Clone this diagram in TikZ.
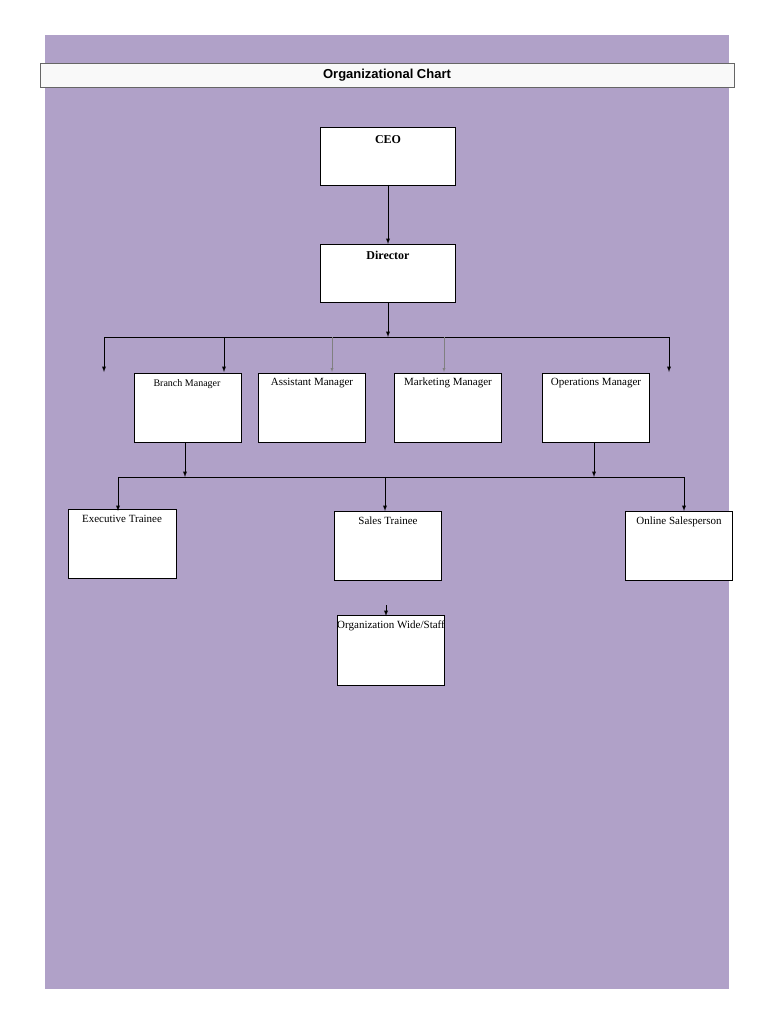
\documentclass[tikz,border=0pt]{standalone}
\usepackage{fontspec}
\setmainfont{Liberation Serif}
\newfontfamily\titlefont{Liberation Sans}
\begin{document}
\begin{tikzpicture}[x=1pt,y=-1pt,
 box/.style={draw=black,fill=white,line width=0.6pt},
 lbl/.style={anchor=north,font=\fontsize{11}{12}\selectfont,inner sep=0pt},
 arr/.style={line width=0.9pt,-{latex}},
 ln/.style={line width=0.9pt}]
\definecolor{bg}{HTML}{B0A1C8}
\useasboundingbox (0,0) rectangle (768,1024);
\fill[bg] (45,35) rectangle (729,989);
\node[draw=black!60,fill=gray!5,minimum width=694pt,minimum height=24pt,inner sep=0pt,font=\titlefont\bfseries\fontsize{13}{14}\selectfont] (title) at (387,75) {Organizational Chart};
% boxes
\draw[box] (320,127) rectangle (455,185); \node[lbl,font=\bfseries\fontsize{12}{13}\selectfont] (ceo) at (388,135) {CEO};
\draw[box] (320,244) rectangle (455,302); \node[lbl,font=\bfseries\fontsize{12}{13}\selectfont] (dir) at (388,251) {Director};
\draw[box] (134,373) rectangle (241,442); \node[lbl,font=\fontsize{10}{11}\selectfont] (bm) at (187,379) {Branch Manager};
\draw[box] (258,373) rectangle (365,442); \node[lbl] (am) at (312,378) {Assistant Manager};
\draw[box] (394,373) rectangle (501,442); \node[lbl] (mm) at (448,378) {Marketing Manager};
\draw[box] (542,373) rectangle (649,442); \node[lbl] (om) at (596,378) {Operations Manager};
\draw[box] (68,509) rectangle (176,578); \node[lbl] (et) at (122,515) {Executive Trainee};
\draw[box] (334,511) rectangle (441,580); \node[lbl] (st) at (388,517) {Sales Trainee};
\draw[box] (625,511) rectangle (732,580); \node[lbl] (os) at (679,517) {Online Salesperson};
\draw[box] (337,615) rectangle (444,685); \node[lbl] (ow) at (391,621) {Organization Wide/Staff};
% connectors
\coordinate (c1) at (388,185); \coordinate (c2) at (388,244);
\draw[arr] (c1) -- (c2);
\coordinate (d1) at (388,302); \coordinate (d2) at (388,337);
\draw[arr] (d1) -- (d2);
\coordinate (hL) at (104,337); \coordinate (hR) at (669,337);
\draw[ln] (hL) -- (hR);
\coordinate (a1) at (104,372); \coordinate (a2) at (224,372); \coordinate (a3) at (332,372); \coordinate (a4) at (444,372); \coordinate (a5) at (669,372);
\coordinate (b2) at (224,337); \coordinate (b3) at (332,337); \coordinate (b4) at (444,337);
\draw[arr] (hL) -- (a1);
\draw[arr] (b2) -- (a2);
\draw[arr,line width=0.4pt,draw=gray] (b3) -- (a3);
\draw[arr,line width=0.4pt,draw=gray] (b4) -- (a4);
\draw[arr] (hR) -- (a5);
\coordinate (e1) at (185,442); \coordinate (e2) at (185,477);
\coordinate (f1) at (594,442); \coordinate (f2) at (594,477);
\draw[arr] (e1) -- (e2); \draw[arr] (f1) -- (f2);
\coordinate (gL) at (118,477); \coordinate (gM) at (385,477); \coordinate (gR) at (684,477);
\draw[ln] (gL) -- (gR);
\coordinate (t1) at (118,511); \coordinate (t2) at (385,511); \coordinate (t3) at (684,511);
\draw[arr] (gL) -- (t1); \draw[arr] (gM) -- (t2); \draw[arr] (gR) -- (t3);
\coordinate (s1) at (386,605); \coordinate (s2) at (386,616);
\draw[arr] (s1) -- (s2);
\end{tikzpicture}
\end{document}
